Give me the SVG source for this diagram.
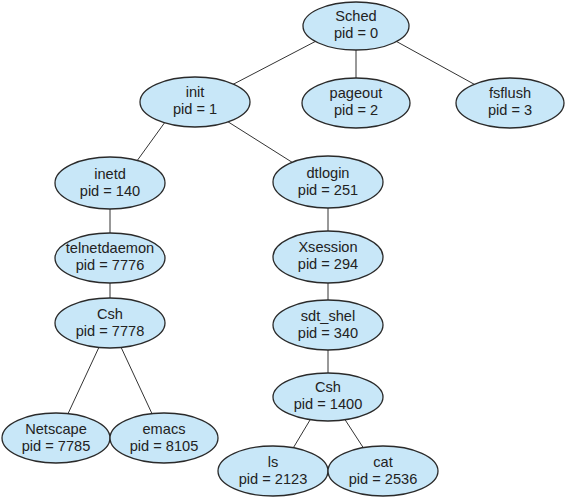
<svg xmlns="http://www.w3.org/2000/svg" width="567" height="500" viewBox="0 0 567 500">
<style>
.n ellipse{fill:#c8e7f8;stroke:#2a2a2a;stroke-width:1.3}
.n text{font-family:"Liberation Sans",Arial,sans-serif;font-size:14.6px;fill:#222;text-anchor:middle}
#edges line{stroke:#333;stroke-width:1}
</style>
<rect width="567" height="500" fill="#fff"/>
<g id="edges">
<line x1="320" y1="39" x2="228" y2="87"/>
<line x1="356" y1="45" x2="356" y2="85"/>
<line x1="392" y1="39" x2="481" y2="88"/>
<line x1="168" y1="118" x2="134" y2="165"/>
<line x1="222" y1="118" x2="298" y2="166"/>
<line x1="110" y1="200" x2="110" y2="240"/>
<line x1="328" y1="200" x2="328" y2="240"/>
<line x1="110" y1="275" x2="110" y2="305"/>
<line x1="328" y1="275" x2="328" y2="305"/>
<line x1="328" y1="340" x2="328" y2="380"/>
<line x1="100" y1="345" x2="66" y2="418"/>
<line x1="120" y1="345" x2="154" y2="418"/>
<line x1="313" y1="415" x2="289" y2="455"/>
<line x1="342" y1="415" x2="368" y2="455"/>
</g>
<g id="sched" class="n"><ellipse cx="356" cy="26" rx="53" ry="24"/><text x="356" y="21">Sched</text><text x="356" y="38">pid = 0</text></g>
<g id="init" class="n"><ellipse cx="195" cy="102" rx="55" ry="25"/><text x="195" y="97">init</text><text x="195" y="114">pid = 1</text></g>
<g id="pageout" class="n"><ellipse cx="356" cy="103" rx="54" ry="25"/><text x="356" y="98">pageout</text><text x="356" y="115">pid = 2</text></g>
<g id="fsflush" class="n"><ellipse cx="510" cy="103" rx="54" ry="25"/><text x="510" y="98">fsflush</text><text x="510" y="115">pid = 3</text></g>
<g id="inetd" class="n"><ellipse cx="110" cy="183" rx="55" ry="26"/><text x="110" y="179">inetd</text><text x="110" y="196">pid = 140</text></g>
<g id="dtlogin" class="n"><ellipse cx="328" cy="182" rx="55" ry="26"/><text x="328" y="178">dtlogin</text><text x="328" y="195">pid = 251</text></g>
<g id="telnetdaemon" class="n"><ellipse cx="110" cy="258" rx="55" ry="25"/><text x="110" y="253">telnetdaemon</text><text x="110" y="270">pid = 7776</text></g>
<g id="xsession" class="n"><ellipse cx="328" cy="257" rx="55" ry="26"/><text x="328" y="252">Xsession</text><text x="328" y="269">pid = 294</text></g>
<g id="csh1" class="n"><ellipse cx="110" cy="323" rx="55" ry="25"/><text x="110" y="319">Csh</text><text x="110" y="336">pid = 7778</text></g>
<g id="sdt_shel" class="n"><ellipse cx="328" cy="325" rx="55" ry="25"/><text x="328" y="321">sdt_shel</text><text x="328" y="338">pid = 340</text></g>
<g id="csh2" class="n"><ellipse cx="328" cy="397" rx="55" ry="24"/><text x="328" y="392">Csh</text><text x="328" y="409">pid = 1400</text></g>
<g id="netscape" class="n"><ellipse cx="56" cy="438" rx="54" ry="25"/><text x="56" y="434">Netscape</text><text x="56" y="451">pid = 7785</text></g>
<g id="emacs" class="n"><ellipse cx="164" cy="438" rx="54" ry="25"/><text x="164" y="434">emacs</text><text x="164" y="451">pid = 8105</text></g>
<g id="ls" class="n"><ellipse cx="273" cy="471" rx="55" ry="25"/><text x="273" y="467">ls</text><text x="273" y="484">pid = 2123</text></g>
<g id="cat" class="n"><ellipse cx="383" cy="471" rx="55" ry="25"/><text x="383" y="467">cat</text><text x="383" y="484">pid = 2536</text></g>
</svg>
